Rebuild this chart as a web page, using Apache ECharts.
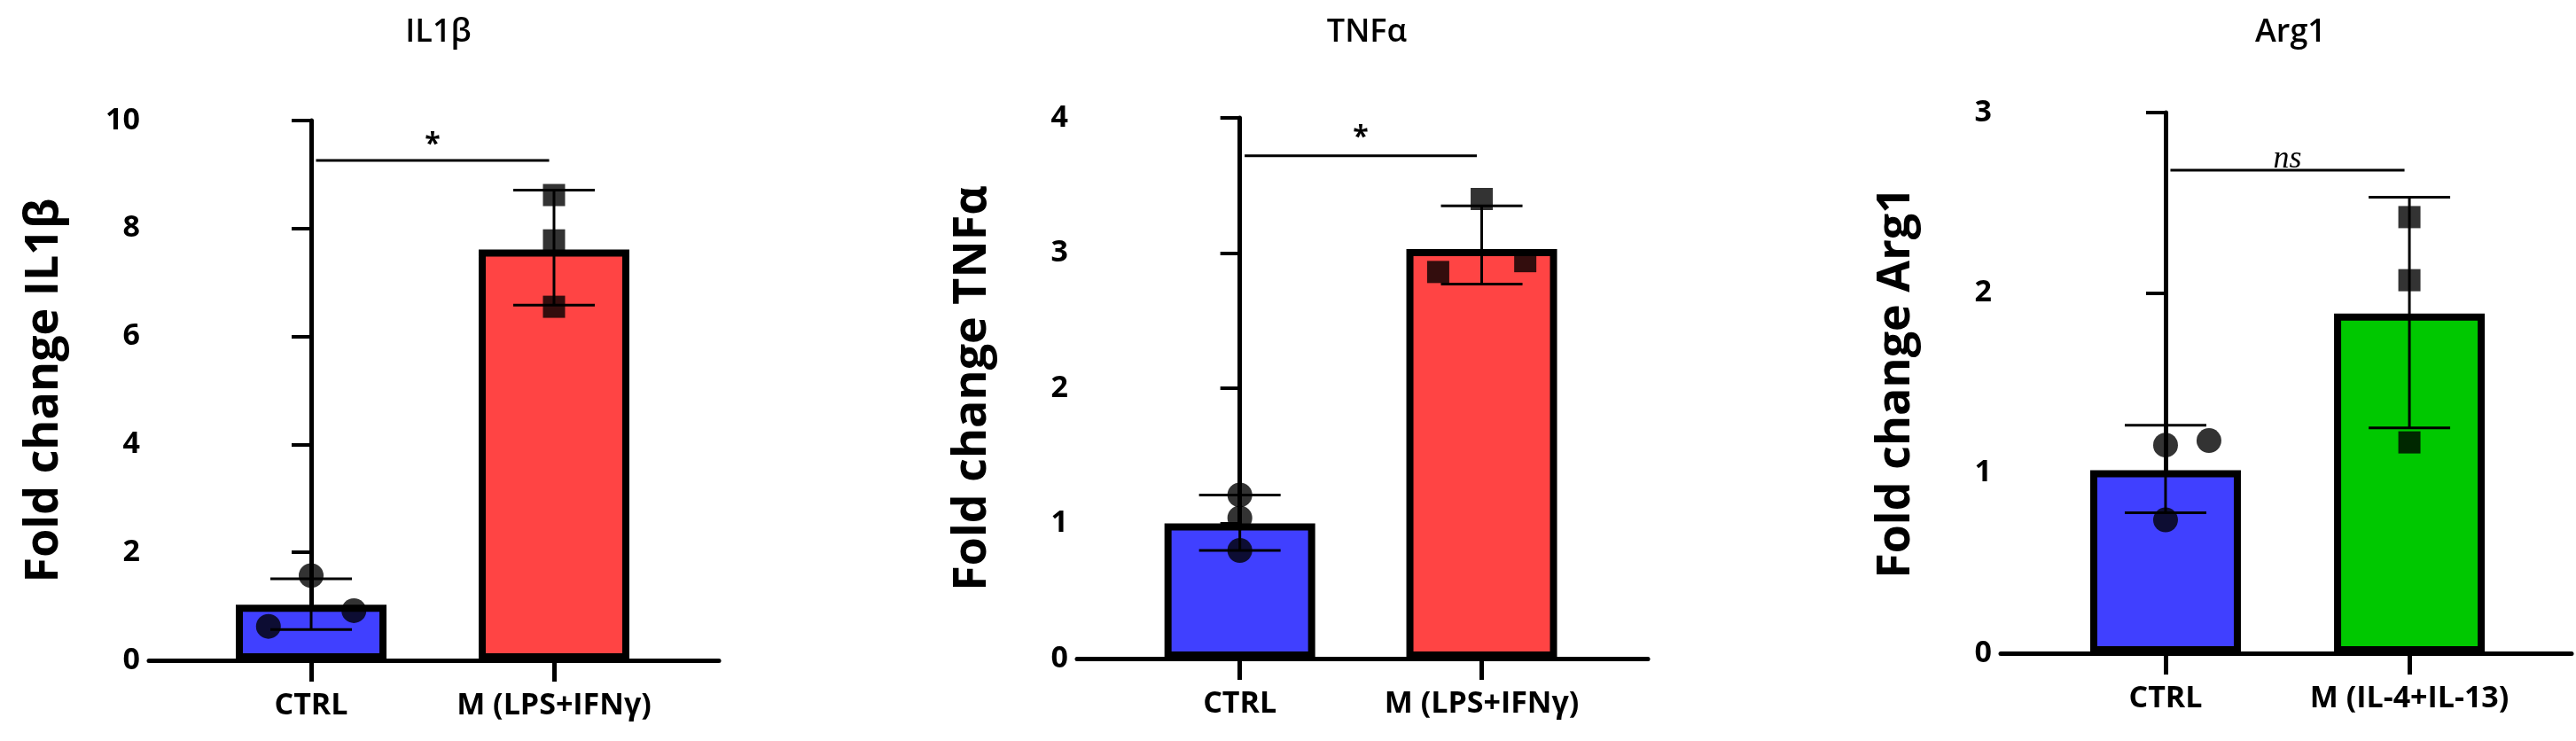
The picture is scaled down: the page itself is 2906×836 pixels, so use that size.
<!DOCTYPE html>
<html><head><meta charset="utf-8">
<script src="https://cdn.jsdelivr.net/npm/echarts@6/dist/echarts.min.js"></script>
<style>html,body{margin:0;background:#fff}#c{width:2906px;height:836px}</style>
</head><body><div id="c"></div>
<script>
// ---- data ----
const titles = ['IL1β', 'TNFα', 'Arg1'];
const yNames = ['Fold change IL1β', 'Fold change TNFα', 'Fold change Arg1'];
const categories1 = ['CTRL', 'M (LPS+IFNγ)'];
const categories2 = ['CTRL', 'M (LPS+IFNγ)'];
const categories3 = ['CTRL', 'M (IL-4+IL-13)'];
const yMax = [10, 4, 3];
const yInterval = [2, 1, 1];
const means1 = [1.03, 7.61];
const means2 = [1.0, 3.03];
const means3 = [1.015, 1.885];
const errLow1 = [0.57, 6.58], errHigh1 = [1.51, 8.71];
const errLow2 = [0.80, 2.77], errHigh2 = [1.21, 3.35];
const errLow3 = [0.78, 1.25], errHigh3 = [1.265, 2.53];
// points: [group, jitter, value]
const points1 = [[0, -0.176, 0.63], [0, 0, 1.57], [0, 0.176, 0.92], [1, 0, 8.62], [1, 0, 7.78], [1, 0, 6.55]];
const points2 = [[0, 0, 1.21], [0, 0, 1.04], [0, 0, 0.80], [1, 0, 3.40], [1, -0.18, 2.86], [1, 0.18, 2.94]];
const points3 = [[0, 0, 1.155], [0, 0.178, 1.18], [0, 0, 0.74], [1, 0, 2.42], [1, 0, 2.07], [1, 0, 1.17]];
const sigLabels = ['*', '*', 'ns'];
const sigLineY = [9.26, 3.72, 2.68];
const sigTextY = [9.55, 3.85, 2.74];
const barColors = [['#4040ff', '#ff4444'], ['#4040ff', '#ff4444'], ['#4040ff', '#00c800']];

const grids = [
  {left: 168, right: 2906 - 811, top: 136, bottom: 836 - 745},
  {left: 1215, right: 2906 - 1859, top: 133, bottom: 836 - 743},
  {left: 2257, right: 2906 - 2901, top: 127, bottom: 836 - 737}
];
const xRange = [[-0.668, 1.679], [-0.673, 1.687], [-0.676, 1.665]];
const cats = [categories1, categories2, categories3];
const means = [means1, means2, means3];
const lows = [errLow1, errLow2, errLow3];
const highs = [errHigh1, errHigh2, errHigh3];
const pts = [points1, points2, points3];

const FONT = 'Open Sans';
const option = {animation: false, grid: grids, xAxis: [], yAxis: [], series: [], title: []};
for (let i = 0; i < 3; i++) {
  const g = grids[i];
  const cx = g.left + (2906 - g.right - g.left) / 2;
  option.title.push({text: titles[i], left: cx, top: 14, textAlign: 'center',
    textStyle: {fontFamily: FONT, fontWeight: 600, fontSize: 36, color: '#000'}});
  option.xAxis.push({type: 'value', gridIndex: i, min: xRange[i][0], max: xRange[i][1],
    splitLine: {show: false},
    axisLine: {show: true, onZero: false, lineStyle: {color: '#000', width: 5}},
    axisTick: {show: true, customValues: [0, 1], length: 24, lineStyle: {color: '#000', width: 5}},
    axisLabel: {customValues: [0, 1], formatter: v => cats[i][Math.round(v)], margin: 34,
      fontFamily: FONT, fontWeight: 700, fontSize: 34, color: '#000'}});
  option.yAxis.push({type: 'value', gridIndex: i, min: 0, max: yMax[i], interval: yInterval[i],
    name: yNames[i], nameLocation: 'middle', nameGap: 92,
    nameTextStyle: {fontFamily: FONT, fontWeight: 700, fontSize: 52, color: '#000'},
    splitLine: {show: false},
    axisLine: {show: true, lineStyle: {color: '#000', width: 5}},
    axisTick: {show: true, length: 22, lineStyle: {color: '#000', width: 4}},
    axisLabel: {margin: 10, fontFamily: FONT, fontWeight: 700, fontSize: 34, color: '#000'}});
  option.series.push({type: 'bar', xAxisIndex: i, yAxisIndex: i, barWidth: 170, z: 2,
    data: means[i].map((m, k) => ({value: [k, m], itemStyle: {color: barColors[i][k]}})),
    itemStyle: {borderColor: '#000', borderWidth: 8}});
  // error bars
  option.series.push({type: 'custom', xAxisIndex: i, yAxisIndex: i, z: 4,
    data: means[i].map((m, k) => [k, lows[i][k], highs[i][k]]),
    renderItem: (p, api) => {
      const a = api.coord([api.value(0), api.value(1)]);
      const b = api.coord([api.value(0), api.value(2)]);
      const s = {stroke: '#000', lineWidth: 3};
      return {type: 'group', children: [
        {type: 'line', shape: {x1: a[0], y1: a[1], x2: b[0], y2: b[1]}, style: s},
        {type: 'line', shape: {x1: a[0] - 46, y1: a[1], x2: a[0] + 46, y2: a[1]}, style: s},
        {type: 'line', shape: {x1: b[0] - 46, y1: b[1], x2: b[0] + 46, y2: b[1]}, style: s}
      ]};
    }});
  // points
  option.series.push({type: 'scatter', xAxisIndex: i, yAxisIndex: i, z: 5,
    data: pts[i].map(p => ({value: [p[0] + p[1], p[2]], symbol: p[0] === 0 ? 'circle' : 'rect',
      symbolSize: p[0] === 0 ? 28 : 25})),
    itemStyle: {color: '#000'}});
  // significance
  option.series.push({type: 'custom', xAxisIndex: i, yAxisIndex: i, z: 6,
    data: [[sigLineY[i], sigTextY[i]]],
    renderItem: (p, api) => {
      const a = api.coord([0.02, api.value(0)]);
      const b = api.coord([0.98, api.value(0)]);
      const t = api.coord([0.5, api.value(1)]);
      const ns = sigLabels[i] === 'ns';
      return {type: 'group', children: [
        {type: 'line', shape: {x1: a[0], y1: a[1], x2: b[0], y2: b[1]}, style: {stroke: '#000', lineWidth: 3}},
        {type: 'text', x: t[0], y: t[1], style: {text: sigLabels[i], align: 'center', verticalAlign: 'middle',
          font: ns ? 'italic 36px "Liberation Serif"' : 'bold 32px "Open Sans"', fill: '#000'}}
      ]};
    }});
}
const chart = echarts.init(document.getElementById('c'));
chart.setOption(option);
</script></body></html>
